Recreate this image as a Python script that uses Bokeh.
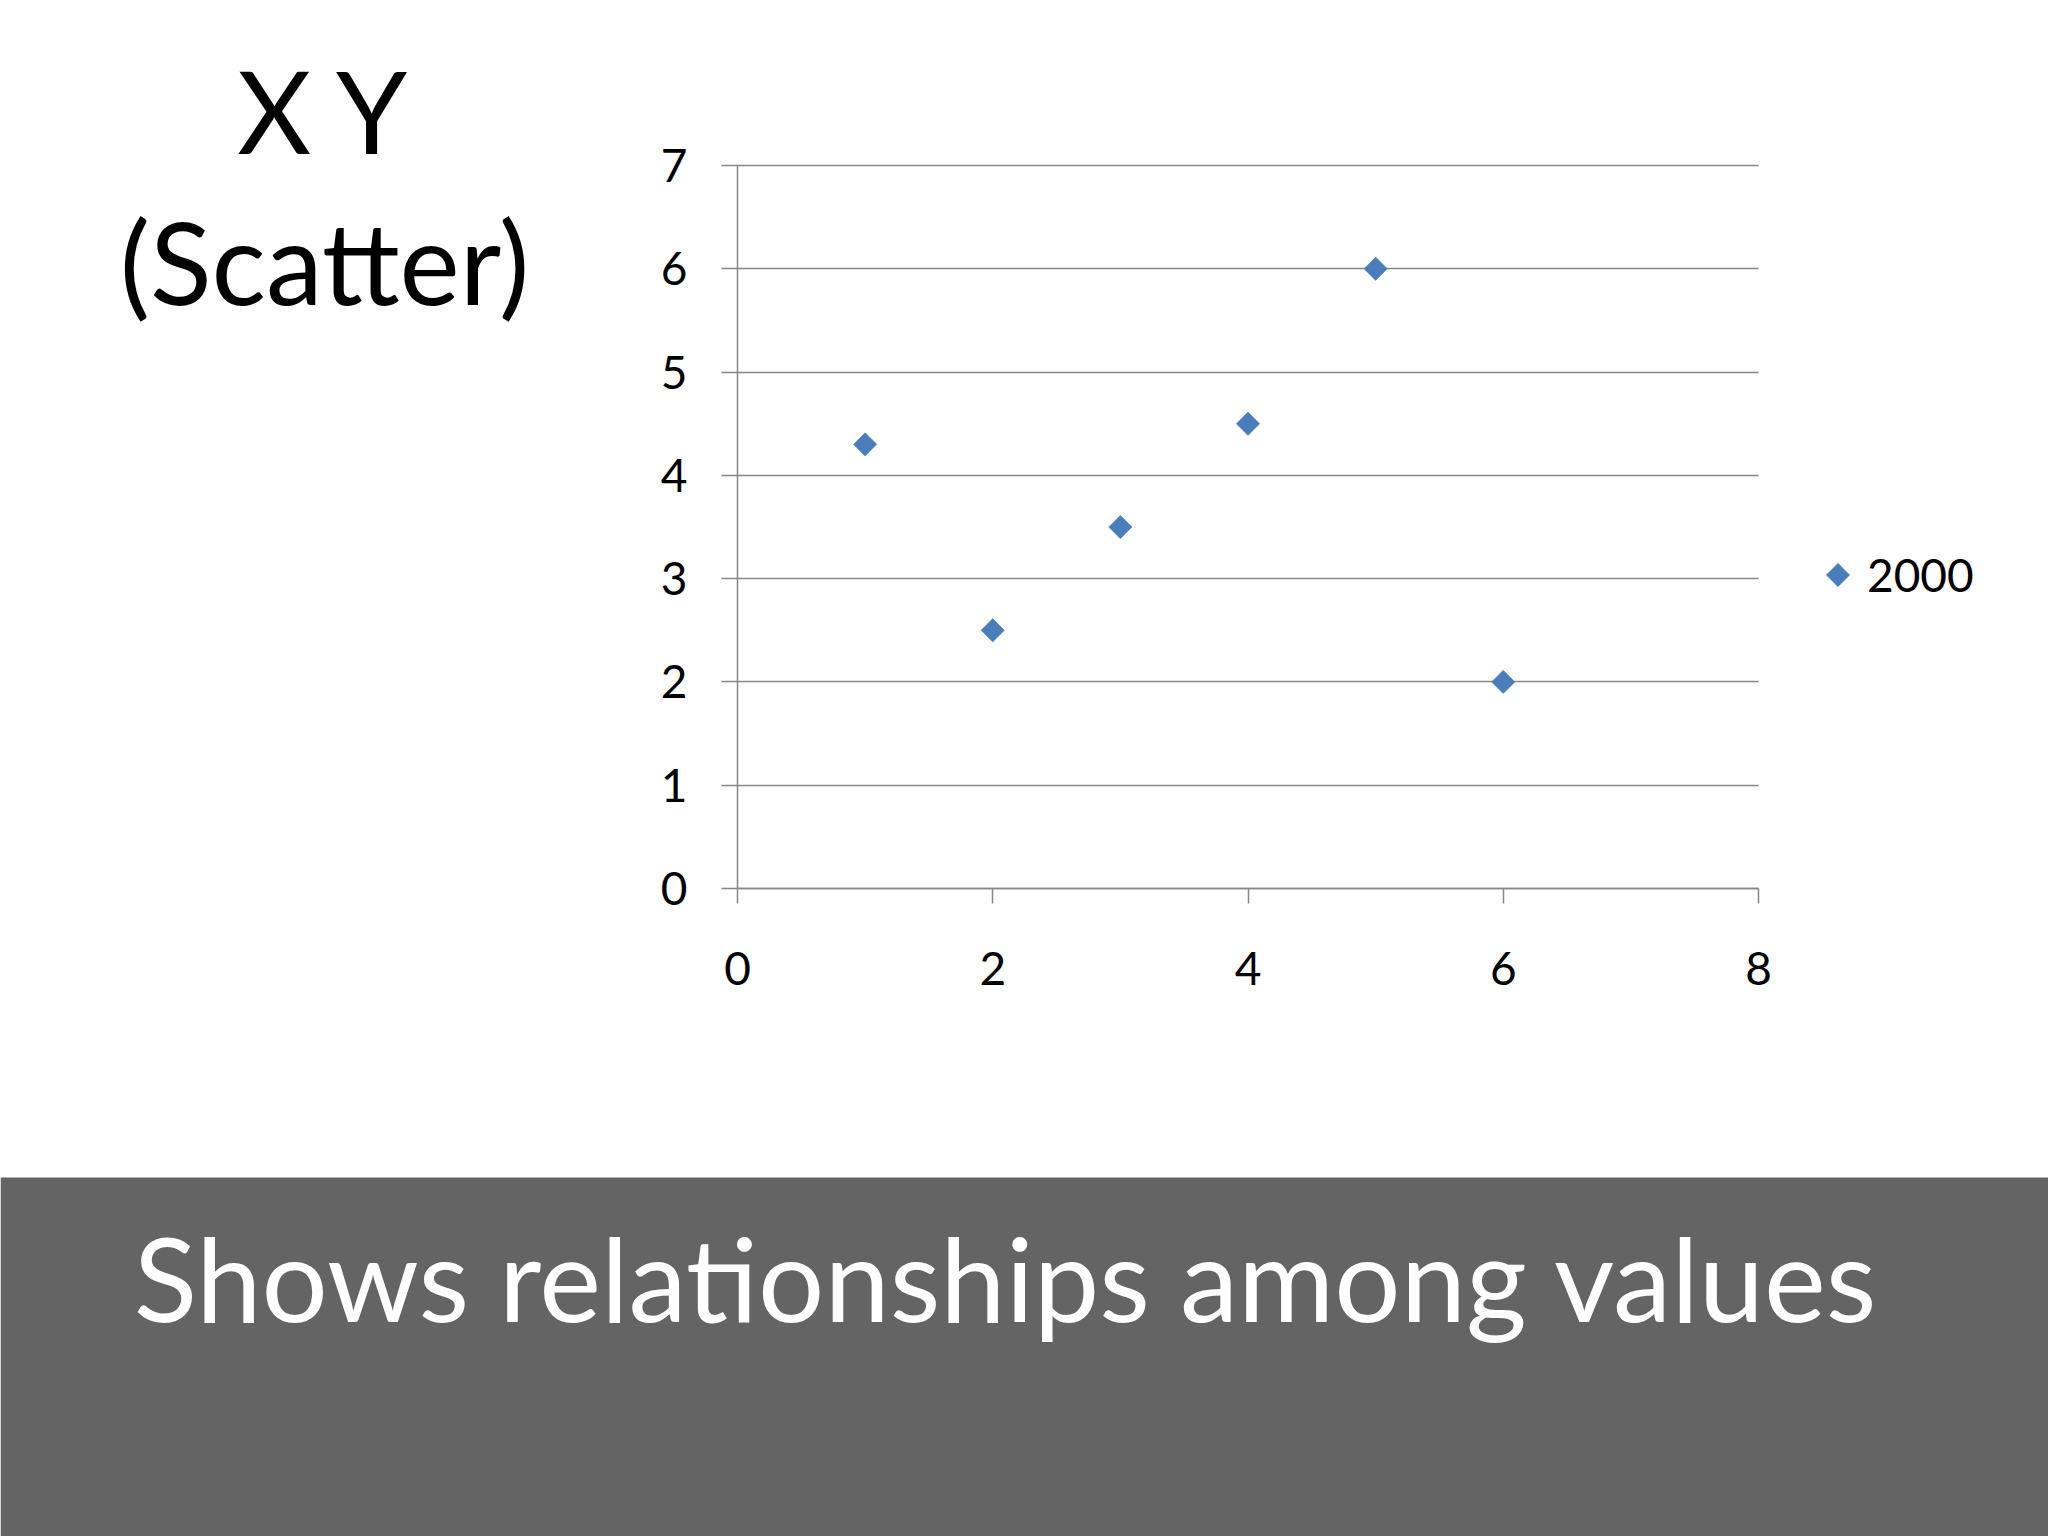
import numpy as np
from bokeh.plotting import figure
from bokeh.models import (Range1d, LinearAxis, Grid, FixedTicker, Legend,
                          LegendItem, BoxAnnotation)
from bokeh.core.properties import value
from bokeh.embed import file_html
from bokeh.resources import INLINE

# data
x_vals = [1, 2, 3, 4, 5, 6]
y_vals = [4.3, 2.5, 3.5, 4.5, 6.0, 2.0]
series_name = "2000"
x_ticks = [0, 2, 4, 6, 8]
y_ticks = [0, 1, 2, 3, 4, 5, 6, 7]
title_lines = ["X Y", "(Scatter)"]
caption = "Shows relationships among values"

FONT = "Lato"
GRID = "#878787"
BLUE = "#4A7EBB"
BAND = "#646464"

# slide is one canvas; plot area sits at these pixels
W, H = 2048, 1536
FL, FR, FT, FB = 737, 1758, 165, 888
X0, X1, Y0, Y1 = 0, 8, 0, 7
xs = (FR - FL) / (X1 - X0)
ys = (FB - FT) / (Y1 - Y0)

p = figure(width=W, height=H, output_backend="svg", toolbar_location=None,
           x_range=Range1d(X0 - FL / xs, X1 + (W - FR) / xs),
           y_range=Range1d(Y0 - (H - FB) / ys, Y1 + FT / ys),
           x_axis_location=None, y_axis_location=None, min_border=0)
p.extra_x_ranges = {"px": Range1d(0, W)}
p.extra_y_ranges = {"px": Range1d(H, 0)}
p.outline_line_color = None
p.background_fill_color = "white"
p.border_fill_color = "white"
p.grid.visible = False

############ AXES #############

xaxis = LinearAxis(fixed_location=0, bounds=(X0, X1), ticker=FixedTicker(ticks=x_ticks))
yaxis = LinearAxis(fixed_location=0, bounds=(Y0, Y1), ticker=FixedTicker(ticks=y_ticks))
for ax in (xaxis, yaxis):
    ax.axis_line_color = GRID
    ax.axis_line_width = 1.5
    ax.major_tick_line_color = GRID
    ax.major_tick_line_width = 1.5
    ax.minor_tick_line_color = None
    ax.major_tick_in = 0
    ax.major_label_text_font = FONT
    ax.major_label_text_font_size = "46px"
    ax.major_label_text_color = "black"
xaxis.major_tick_out = 15
xaxis.major_label_standoff = 48
yaxis.major_tick_out = 16
yaxis.major_label_standoff = 34
p.add_layout(xaxis, "below")
p.add_layout(yaxis, "left")

p.add_layout(Grid(dimension=1, ticker=yaxis.ticker, cross_bounds=(X0, X1),
                  grid_line_color=GRID, grid_line_width=1.5))

############ POINTS + LEGEND #############

r = p.scatter(x_vals, y_vals, marker="square", size=16.5, angle=np.pi / 4,
              fill_color=BLUE, line_color=BLUE, line_width=0.5)

legend = Legend(items=[LegendItem(label=series_name, renderers=[r])],
                location=(1826, 934), padding=0, margin=0, spacing=0,
                glyph_width=23, glyph_height=23, label_standoff=18,
                label_text_font=FONT, label_text_font_size="46px",
                label_text_color="black",
                border_line_color=None, background_fill_alpha=0)
p.add_layout(legend)
# the legend draws its key unrotated and small; lay the diamond key over it
p.scatter(x=[1837.5], y=[574.5], x_range_name="px", y_range_name="px",
          marker="square", size=16.5, angle=np.pi / 4,
          fill_color=BLUE, line_color=BLUE, line_width=0.5)

############ SLIDE TEXT #############

p.text(x=[324, 324], y=[109, 260], text=title_lines,
       x_range_name="px", y_range_name="px",
       text_align="center", text_baseline="alphabetic", text_color="black",
       text_font=value(FONT), text_font_size="114px")

p.add_layout(BoxAnnotation(left=0, right=W, top=1177, bottom=H,
                           x_range_name="px", y_range_name="px",
                           fill_color=BAND, fill_alpha=1.0, line_color=None,
                           level="underlay"))
p.text(x=[1006], y=[1276], text=[caption],
       x_range_name="px", y_range_name="px",
       text_align="center", text_baseline="alphabetic", text_color="white",
       text_font=value(FONT), text_font_size="117px")

open("out.html", "w").write(file_html(p, INLINE))
